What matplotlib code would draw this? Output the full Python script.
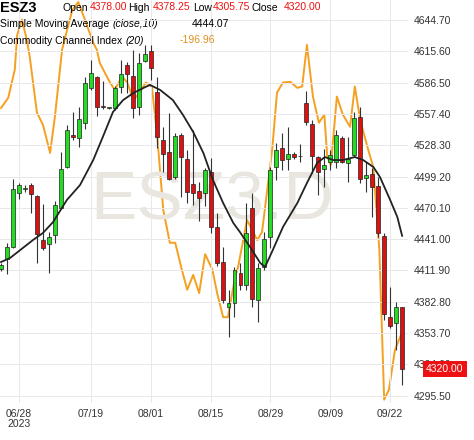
import matplotlib
matplotlib.use("Agg")
import matplotlib.pyplot as plt
import numpy as np
plt.rcParams['font.family'] = ['Liberation Sans', 'DejaVu Sans']

opens  = [4413,4422.5,4433.7,4484,4487.5,4491.3,4481,4440,4436.5,4445,4470,4508,4538,4535,4549,4581.5,4591.7,4565,4563,4563,
          4582.4,4603,4592.6,4564,4606.6,4616,4578,4533,4522,4499,4538,4515.5,4492,4486,4484,4503,4452,4420,4378,4381.6,
          4409.5,4398,4470,4384.4,4415,4443,4508,4526,4515.5,4520,4518.5,4567.5,4548,4517,4506,4512.7,4512.7,4535,4511.8,4519,
          4554.5,4497.8,4501.5,4490.4,4444,4368.6,4363,4378]
highs  = [4419,4437,4496.9,4493,4491,4493,4482,4474,4447.5,4476,4522,4547,4559,4564,4591.7,4607.5,4592.6,4588,4564,4583,
          4607.5,4606,4617,4614,4621,4621.5,4592,4545,4558,4540,4540,4524,4542,4494,4507,4516,4465,4433.7,4393.7,4415,
          4419,4474.6,4484,4419,4447.6,4508,4530,4540,4545,4522,4529,4578.7,4551.8,4518,4524.8,4523.8,4542.4,4537,4536,4559,
          4563.8,4512.7,4507,4498.7,4446.7,4396.5,4382.5,4378.25]
lows   = [4411,4409,4433,4478,4485,4465,4419,4431,4409.5,4437,4469,4507,4533,4527,4543,4580,4555,4562,4562,4561,
          4577,4577,4553.6,4556,4605.5,4589,4526,4503.5,4496,4497,4480,4475,4473,4458,4472,4446.7,4416,4381.6,4350,4368.6,
          4393.7,4393.7,4378,4364,4412.3,4433,4496,4505,4505,4515.5,4512.7,4547,4502.5,4482,4489.4,4505,4507,4511.8,4494,4517.3,
          4493,4484.8,4461.5,4443,4365.8,4358,4338,4305.75]
closes = [4417,4433.7,4487.6,4491.3,4488,4483,4446,4433,4443,4473,4506,4542.4,4536,4552.7,4586,4595.4,4563.8,4563.5,4563,4581.5,
          4594.5,4594.5,4563,4604.7,4613,4600,4536,4520,4497,4537,4517,4485,4484,4479,4505,4452,4419,4384,4381.6,4412.3,
          4398,4446.7,4385,4414,4441,4505,4524,4514.5,4520,4517,4518,4549.9,4518.3,4503.4,4510,4519,4537.8,4512.7,4515.5,4553.6,
          4497,4500.6,4489.4,4446.7,4371.3,4360.2,4378,4320]

sma_x = [0,1.5,5.35,7.0,8.7,11.0,13.2,15.4,17.0,18.7,20.4,22.1,24.1,24.9,26.6,28.7,30.4,32.1,33.8,35.4,37.1,38.8,39.9,41.6,43.3,44.1,
         45.4,47.1,49.5,51.1,52.8,54.1,55.5,57.1,59.1,60.5,62.2,63.3,65.0,66.2,67.0]
sma_v = [4419.7,4423.4,4440.2,4446.7,4456.9,4477.4,4491.3,4514.5,4535.9,4559.2,4570.3,4576.8,4582.4,4584.3,4579.6,4570.3,4556.4,4540.6,
         4521.1,4496.0,4474.6,4456,4447.6,4433.7,4418.8,4415.1,4430.9,4452.3,4474.6,4493.2,4511.8,4517.3,4514.5,4514.5,4517.3,4514.5,
         4508,4498.7,4477.4,4461.5,4444.07]
cci_x = [0,1.2,2.3,2.7,3.5,4.3,4.8,6.0,7.0,8.2,9.0,10.2,11.9,12.9,14.0,15.4,16.0,16.5,18.2,19.0,20.2,21.1,22.1,22.9,24.2,25.2,26.1,
         27.1,28.2,29.1,30.2,31.1,32.1,33.1,34.1,35.3,36.1,37.1,37.9,39.1,39.6,41.1,42.8,43.6,45.3,46.1,47.1,48.3,49.5,50.3,51.1,
         52.1,53.1,54.0,54.5,55.1,56.1,57.1,58.3,59.1,60.0,61.2,62.2,63.2,64.0,64.8,65.8,67.0]
cci_v = [137,152,194,246,269,239,213,130,112,70,124,224,283,295,269,234,224,204,175,164,184,175,149,157,175,169,94,
         -15,-64,-64,-104,-134,-112,-139,-81,-104,-139,-175,-175,-115,-100,-30,-60,-48,75,160,175,176,167,169,231,
         154,115,127,64,52,154,127,109,169,119,79,48,-75,-298,-283,-224,-196.96]

date_idx = [3,15,25,35,45,55,65]
date_lbl = ["06/28\n2023","07/19","08/01","08/15","08/29","09/09","09/22"]
yticks = [4644.70,4615.60,4586.50,4557.40,4528.30,4499.20,4470.10,4441.00,4411.90,4382.80,4353.70,4324.60,4295.50]

W = 474.0
fig = plt.figure(figsize=(4.74,4.40), dpi=100)
ax = fig.add_axes([0,0.084,0.861,0.916])
ax2 = ax.twinx()
ax.set_zorder(2); ax.patch.set_visible(False)
ax2.set_zorder(1)

GREEN, RED = "#22dd22", "#dd1111"
for i,(o,h,l,c) in enumerate(zip(opens,highs,lows,closes)):
    col = GREEN if c >= o else RED
    ax.vlines(i, l, h, color="#333333", lw=0.8, zorder=3)
    b = max(abs(c-o), 0.6)
    ax.add_patch(plt.Rectangle((i-0.33, min(o,c)), 0.66, b, facecolor=col, edgecolor="#222222", lw=0.5, zorder=4))

ax.plot(sma_x, sma_v, color="#222222", lw=1.3, zorder=5)
ax2.plot(cci_x, cci_v, color="#f5a020", lw=1.4)

ax.set_xlim(-0.17, 68.0)
ax.set_ylim(4288.6, 4663.3)
ax2.set_ylim(-303, 298)
ax2.set_yticks([])
ax.yaxis.tick_right()
ax.set_yticks(yticks)
ax.set_yticklabels([f"{v:.2f}" for v in yticks], fontsize=7.5, color="#333333")
ax.set_xticks(date_idx)
ax.set_xticklabels(date_lbl, fontsize=7.5, color="#333333", linespacing=1.0)
ax.tick_params(length=0, pad=4)
ax.grid(True, color="#e8e8e8", lw=0.7)
for a in (ax, ax2):
    for s in a.spines.values():
        s.set_visible(False)
for i in date_idx:
    ax2.axvline(i, color="#e8e8e8", lw=0.7)

ax.text(0.52, 0.5, "ESZ3.D", transform=ax.transAxes, fontsize=50, color="#e8e6df",
        ha="center", va="center", zorder=1)

ax.annotate("4320.00", xy=(1.0, 4320), xycoords=("axes fraction","data"), xytext=(13,0),
            textcoords="offset points", fontsize=7.5, color="white", va="center", ha="left",
            bbox=dict(boxstyle="square,pad=0.3", fc="#ee1111", ec="none"), annotation_clip=False, zorder=10)

fs = 7.5
def t(x, y, s, **kw):
    return fig.text(x/W, 1 - y/440.0, s, fontsize=kw.pop("fontsize", fs), va="center", **kw)
def after(prev, s, **kw):
    return plt.annotate(s, xy=(1, 0.5), xycoords=prev, xytext=(2.5, 0),
        textcoords="offset points", va="center", ha="left", fontsize=fs, **kw)
t(0, 8, "ESZ3", fontsize=10.5, fontweight="bold")
t(62, 8, "Open"); t(90, 7, "4378.00", color="#ee1111")
t(128, 8, "High"); t(153, 7, "4378.25", color="#ee1111")
t(193, 8, "Low"); t(213, 7, "4305.75", color="#ee1111")
t(252, 8, "Close"); t(284, 7, "4320.00", color="#ee1111")
a = t(0, 24, "Simple Moving Average"); after(a, "(close,10)", style="italic"); t(192, 24, "4444.07")
b = t(0, 41, "Commodity Channel Index"); after(b, "(20)", style="italic"); t(180, 40, "-196.96", color="#e09020")

fig.savefig("out.png", dpi=100)
